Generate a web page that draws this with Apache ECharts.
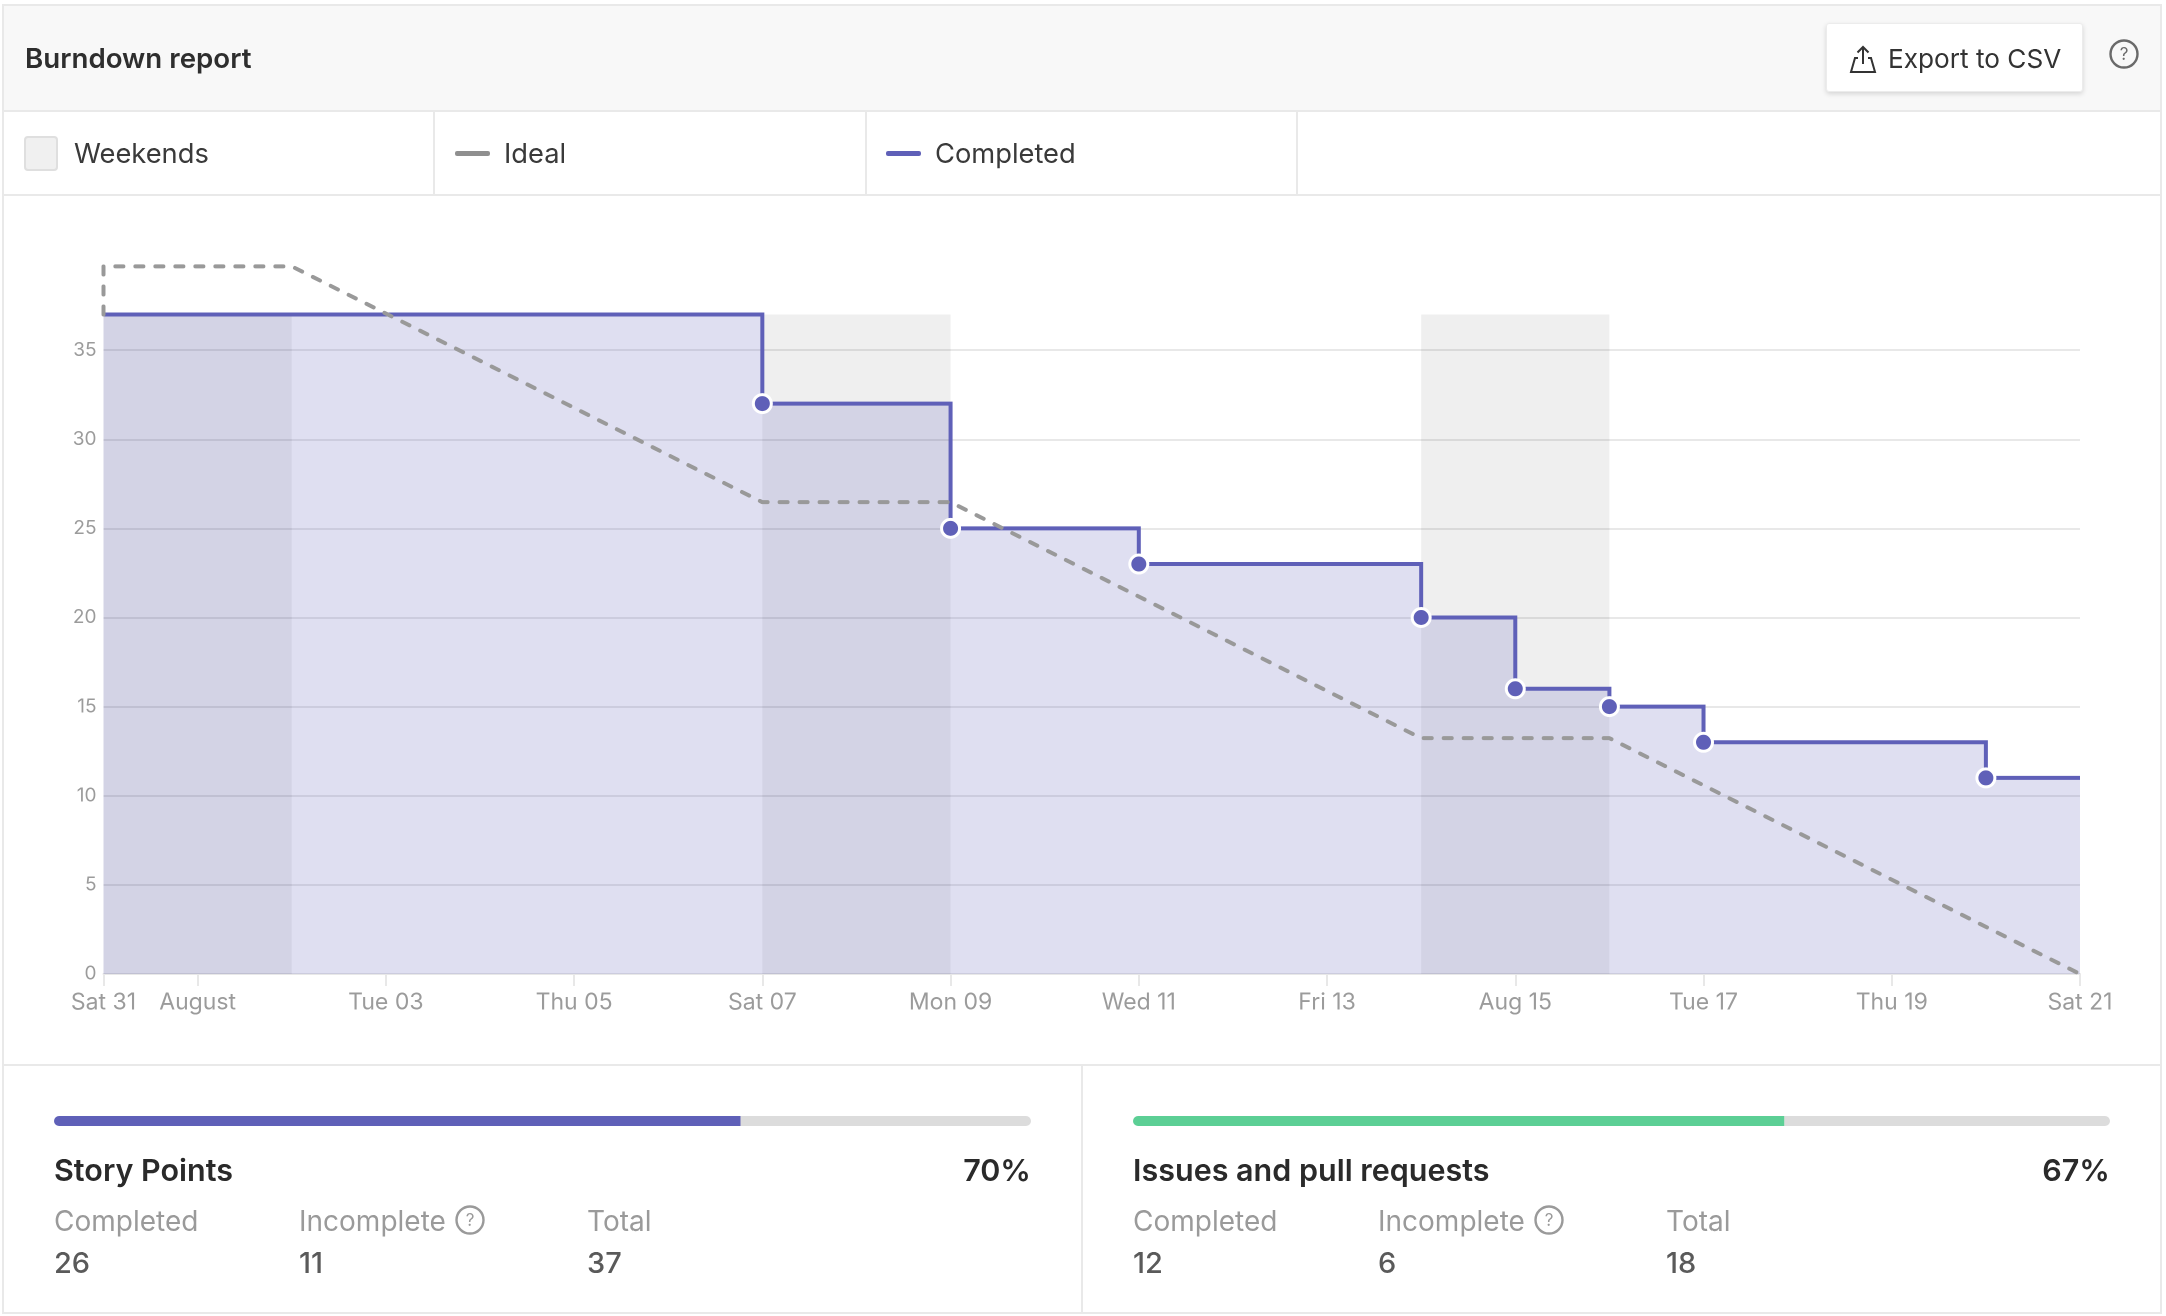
<!DOCTYPE html>
<html>
<head>
<meta charset="utf-8">
<title>Burndown report</title>
<script src="https://cdn.jsdelivr.net/npm/echarts@6/dist/echarts.min.js"></script>
<style>
    * { box-sizing: border-box; }
    html, body { margin: 0; width: 2166px; height: 1316px; background: #fff; overflow: hidden; font-family: Inter, "Noto Sans", sans-serif; }
    .abs { position: absolute; white-space: nowrap; }
    .frame { left: 2px; top: 4px; width: 2160px; height: 1310px; border: 2px solid #e9e9e9; }
    .header { left: 4px; top: 6px; width: 2156px; height: 104px; background: #f8f8f8; }
    .hline { left: 4px; width: 2156px; height: 2px; background: #e9e9e9; }
    .vline { width: 2px; background: #e9e9e9; }
    .mid { transform: translateY(-50%); line-height: 1; }
    .title { font-size: 27.7px; font-weight: 600; color: #2e2e2e; }
    .legend { font-size: 27.3px; color: #3a3a3a; }
    .button { left: 1826px; top: 23px; width: 257px; height: 69px; background: #fff; border: 1px solid #ececec; border-radius: 3px; box-shadow: 0 2px 5px rgba(0,0,0,.14); }
    .btn-text { font-size: 26.2px; color: #333; }
    .stat-title { font-size: 30.5px; font-weight: 600; color: #2a2a2a; }
    .stat-label { font-size: 28px; color: #9a9a9a; }
    .stat-value { font-size: 29px; font-weight: 500; color: #5a5a5a; }
    #chart { position: absolute; left: 0; top: 0; width: 2166px; height: 1316px; }
</style>
</head>
<body>
<div class="abs frame"></div>
<div class="abs header"></div>
<div class="abs hline" style="top:110px"></div>
<div class="abs hline" style="top:194px"></div>
<div class="abs hline" style="top:1064px"></div>
<div class="abs vline" style="left:433px;top:112px;height:82px"></div>
<div class="abs vline" style="left:865px;top:112px;height:82px"></div>
<div class="abs vline" style="left:1296px;top:112px;height:82px"></div>
<div class="abs vline" style="left:1081px;top:1066px;height:246px"></div>

<div id="chart"></div>

<div class="abs mid title" style="left:25px;top:59px">Burndown report</div>

<div class="abs button"></div>
<svg class="abs" style="left:1848px;top:44px" width="30" height="30" viewBox="0 0 30 30" fill="none" stroke="#333" stroke-width="2">
    <path d="M15 20V3M9.5 8.5L15 3l5.5 5.5"/><path d="M10 14H7L3 28h24l-4-14h-3"/>
</svg>
<div class="abs mid btn-text" style="left:1888px;top:59px">Export to CSV</div>
<svg class="abs" style="left:2109px;top:39px" width="30" height="30" viewBox="0 0 30 30">
    <circle cx="15" cy="15" r="13.5" fill="none" stroke="#6a6a6a" stroke-width="2.4"/>
    <text x="15" y="21" text-anchor="middle" font-size="17" font-family="Inter" fill="#6a6a6a">?</text>
</svg>

<div class="abs" style="left:24px;top:136px;width:34px;height:35px;background:#f0f0f0;border:2px solid #dfdfdf;border-radius:4px"></div>
<div class="abs mid legend" style="left:74px;top:154px">Weekends</div>
<div class="abs" style="left:455px;top:151px;width:35px;height:5px;background:#8f8f8f;border-radius:2px"></div>
<div class="abs mid legend" style="left:504px;top:154px">Ideal</div>
<div class="abs" style="left:886px;top:151px;width:35px;height:5px;background:#5f60b8;border-radius:2px"></div>
<div class="abs mid legend" style="left:935px;top:154px">Completed</div>

<div id="stats"></div>

<script>
// 圖表數據
const weekendStarts = [0, 7, 14];
const weekendLength = 2;

const completedDays = [0, 7, 9, 11, 14, 15, 16, 17, 20, 21];
const completedValues = [37, 32, 25, 23, 20, 16, 15, 13, 11, 11];

const idealDays = [0, 0, 2, 7, 9, 14, 16, 21];
const idealValues = [37, 39.7, 39.7, 26.47, 26.47, 13.23, 13.23, 0];

const tickDays = [0, 1, 3, 5, 7, 9, 11, 13, 15, 17, 19, 21];
const tickLabels = ['Sat 31', 'August', 'Tue 03', 'Thu 05', 'Sat 07', 'Mon 09', 'Wed 11', 'Fri 13', 'Aug 15', 'Tue 17', 'Thu 19', 'Sat 21'];

const statNames = ['Story Points', 'Issues and pull requests'];
const statCompleted = [26, 12];
const statIncomplete = [11, 6];
const statPercent = ['70%', '67%'];

const COLOR_COMPLETED = '#5f60b8';
const COLOR_IDEAL = '#999999';
const COLOR_GRID = '#e8e8e8';
const COLOR_LABEL = '#9b9b9b';
const BAND_TOP = completedValues[0];

// 下方統計區塊
const statLeft = [54, 1133];
const helpIcon = (x, y) => `
    <svg class="abs" style="left:${x - 15}px;top:${y - 15}px" width="30" height="30" viewBox="0 0 30 30">
        <circle cx="15" cy="15" r="13.5" fill="none" stroke="#9a9a9a" stroke-width="2.4"/>
        <text x="15" y="21" text-anchor="middle" font-size="17" font-family="Inter" fill="#9a9a9a">?</text>
    </svg>`;

document.getElementById('stats').innerHTML = statNames.map((name, i) => {
    const x = statLeft[i];
    return `
        <div class="abs mid stat-title" style="left:${x}px;top:1170px">${name}</div>
        <div class="abs mid stat-title" style="left:${x + 977}px;top:1170px;transform:translate(-100%,-50%)">${statPercent[i]}</div>
        <div class="abs mid stat-label" style="left:${x}px;top:1221px">Completed</div>
        <div class="abs mid stat-label" style="left:${x + 245}px;top:1221px">Incomplete</div>
        ${helpIcon(x + 416, 1220)}
        <div class="abs mid stat-label" style="left:${x + 533}px;top:1221px">Total</div>
        <div class="abs mid stat-value" style="left:${x}px;top:1262px">${statCompleted[i]}</div>
        <div class="abs mid stat-value" style="left:${x + 245}px;top:1262px">${statIncomplete[i]}</div>
        <div class="abs mid stat-value" style="left:${x + 533}px;top:1262px">${statCompleted[i] + statIncomplete[i]}</div>
    `;
}).join('');

const chart = echarts.init(document.getElementById('chart'), null, { renderer: 'canvas', devicePixelRatio: 2 });

// 進度條座標
const barGrids = statLeft.map(x => ({ left: x, top: 1116, width: 977, height: 10 }));
const barX = statCompleted.map((c, i) => ({
    type: 'value', gridIndex: i + 1, min: 0, max: c + statIncomplete[i], show: false
}));
const barY = statCompleted.map((c, i) => ({
    type: 'category', gridIndex: i + 1, data: [statNames[i]], show: false
}));
const barColors = [COLOR_COMPLETED, '#5ccf95'];
const barSeries = [];
statCompleted.forEach((c, i) => {
    barSeries.push({
        type: 'bar', xAxisIndex: i + 1, yAxisIndex: i + 1, stack: 's' + i, barWidth: 10, silent: true,
        data: [c], itemStyle: { color: barColors[i], borderRadius: [5, 0, 0, 5] }
    });
    barSeries.push({
        type: 'bar', xAxisIndex: i + 1, yAxisIndex: i + 1, stack: 's' + i, barWidth: 10, silent: true,
        data: [statIncomplete[i]], itemStyle: { color: '#dcdcdc', borderRadius: [0, 5, 5, 0] }
    });
});

chart.setOption({
    animation: false,
    textStyle: { fontFamily: 'Inter' },
    grid: [{ left: 103.5, top: 261, width: 1976.5, height: 713 }, ...barGrids],
    xAxis: [{
        type: 'value',
        min: 0,
        max: 21,
        axisLine: { lineStyle: { color: COLOR_GRID, width: 2 } },
        axisTick: { customValues: tickDays, length: 12, lineStyle: { color: COLOR_GRID, width: 2 } },
        axisLabel: {
            customValues: tickDays,
            margin: 17,
            fontSize: 23,
            color: COLOR_LABEL,
            formatter: v => tickLabels[tickDays.indexOf(v)]
        },
        splitLine: { show: false }
    }, ...barX],
    yAxis: [{
        type: 'value',
        min: 0,
        max: 40,
        interval: 5,
        axisLine: { show: false },
        axisTick: { show: false },
        axisLabel: { margin: 7, fontSize: 19, color: COLOR_LABEL, showMaxLabel: false },
        splitLine: { showMaxLine: false, lineStyle: { color: COLOR_GRID, width: 2 } }
    }, ...barY],
    series: [
        {
            name: 'Weekends',
            type: 'line',
            data: [],
            z: 1,
            markArea: {
                silent: true,
                itemStyle: { color: 'rgba(0,0,0,0.063)' },
                data: weekendStarts.map(d => [{ coord: [d, 0] }, { coord: [d + weekendLength, BAND_TOP] }])
            }
        },
        {
            name: 'Completed',
            type: 'line',
            step: 'end',
            z: 3,
            data: completedDays.map((d, i) => [d, completedValues[i]]),
            lineStyle: { color: COLOR_COMPLETED, width: 4, join: 'miter' },
            areaStyle: { color: COLOR_COMPLETED, opacity: 0.2 },
            showAllSymbol: true,
            symbol: (val, params) => (params.dataIndex === 0 || params.dataIndex === completedDays.length - 1) ? 'none' : 'circle',
            symbolSize: 18,
            itemStyle: { color: COLOR_COMPLETED, borderColor: '#fff', borderWidth: 3 }
        },
        {
            name: 'Ideal',
            type: 'line',
            z: 4,
            data: idealDays.map((d, i) => [d, idealValues[i]]),
            symbol: 'none',
            lineStyle: { color: COLOR_IDEAL, width: 4, type: [8, 12], cap: 'round' }
        },
        ...barSeries
    ]
});
</script>
</body>
</html>
